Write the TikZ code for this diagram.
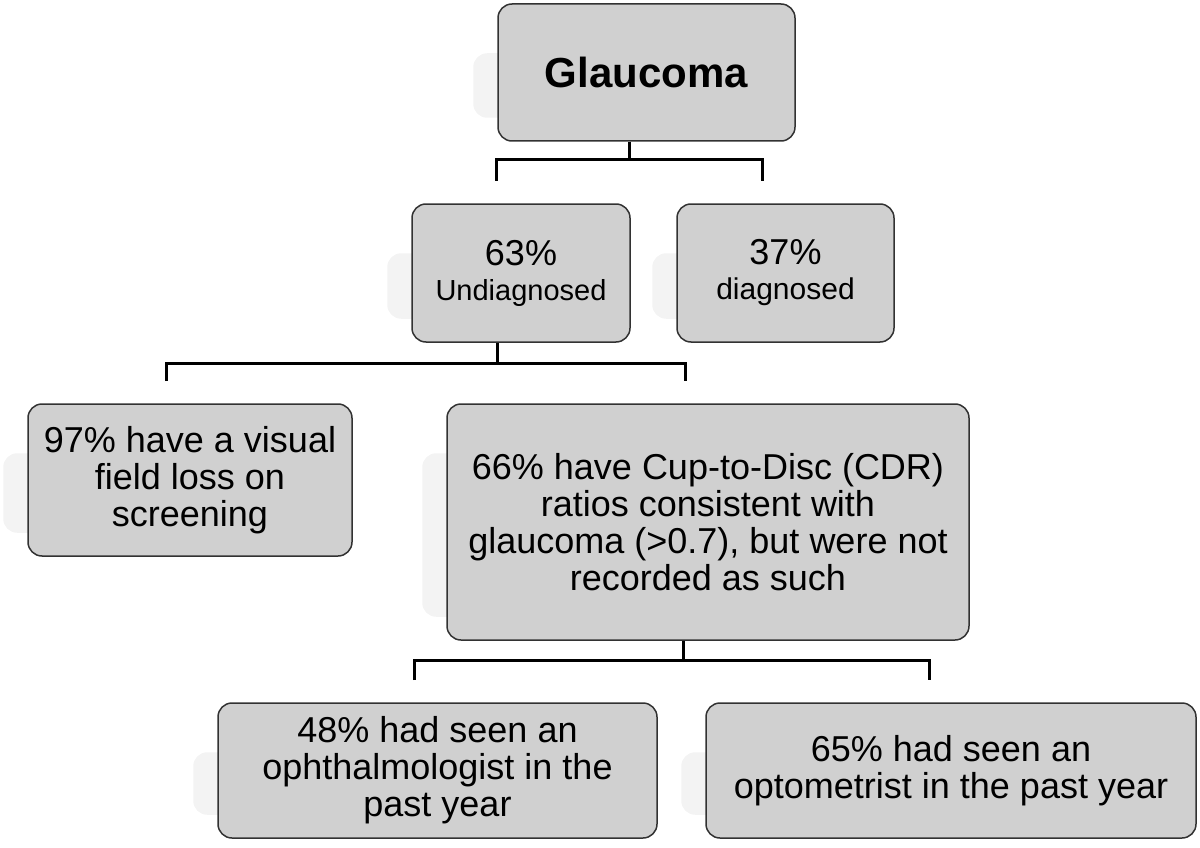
\documentclass[tikz,border=0pt]{standalone}
\usepackage{fontspec}
\setmainfont{Liberation Sans}
\usepackage{xcolor}
\definecolor{boxfill}{RGB}{208, 208, 208}
\definecolor{boxline}{RGB}{50, 50, 50}
\definecolor{glowfill}{RGB}{243, 243, 243}
\usetikzlibrary{positioning,backgrounds,calc}

\begin{document}
\begin{tikzpicture}[
  x=1pt, y=-1pt,
  infobox/.style={draw=boxline, fill=boxfill, rounded corners=14pt, align=center, inner sep=0pt, line width=1.5pt, font=\fontsize{36}{37}\selectfont},
  titlebox/.style={infobox, font=\fontsize{42}{44}\selectfont\bfseries},
  glow/.style={fill=glowfill, rounded corners=14pt},
  link/.style={draw=black, line width=3pt}
]
\useasboundingbox (0,0) rectangle (1200,848);

% top level
\node[titlebox, minimum width=297pt, minimum height=137pt] (glaucoma) at (646.5,72.5) {Glaucoma};

% second level
\node[infobox, minimum width=218pt, minimum height=138pt] (undiag) at (521,273) {63\%\\[-2pt]{\fontsize{29}{31}\selectfont Undiagnosed}};
\node[infobox, minimum width=217pt, minimum height=138pt] (diag) at (785.5,273) {37\%\\[-2pt]{\fontsize{30}{31}\selectfont diagnosed}};

% third level
\node[infobox, minimum width=324pt, minimum height=152pt] (visual) at (190,480) {97\% have a visual\\field loss on\\screening};
\node[infobox, minimum width=522pt, minimum height=236pt] (cdr) at (708,522) {66\% have Cup-to-Disc (CDR)\\ratios consistent with\\glaucoma (>0.7), but were not\\recorded as such};

% fourth level
\node[infobox, minimum width=439pt, minimum height=135pt] (ophth) at (437.5,770.5) {48\% had seen an\\ophthalmologist in the\\past year};
\node[infobox, minimum width=490pt, minimum height=135pt] (optom) at (951,770.5) {65\% had seen an\\optometrist in the past year};

% faint glow behind each box
\begin{scope}[on background layer]
\foreach \b in {glaucoma,undiag,diag,visual,cdr,ophth,optom}
  \fill[glow] ($(\b.north west)+(-24,50)$) rectangle ($(\b.south east)+(-14,-24)$);
\end{scope}

% bracket connectors
\coordinate (hubA) at (629,160);
\coordinate (legAl) at (496,181);
\coordinate (legAr) at (762,181);
\coordinate (hubB) at (497,363);
\coordinate (legBl) at (166,381);
\coordinate (legBr) at (685,381);
\coordinate (hubC) at (683,660);
\coordinate (legCl) at (414,680);
\coordinate (legCr) at (929,680);

\draw[link] (glaucoma.south -| hubA) -- (hubA);
\draw[link] (legAl) |- (hubA) -| (legAr);
\draw[link] (undiag.south -| hubB) -- (hubB);
\draw[link] (legBl) |- (hubB) -| (legBr);
\draw[link] (cdr.south -| hubC) -- (hubC);
\draw[link] (legCl) |- (hubC) -| (legCr);
\end{tikzpicture}
\end{document}
